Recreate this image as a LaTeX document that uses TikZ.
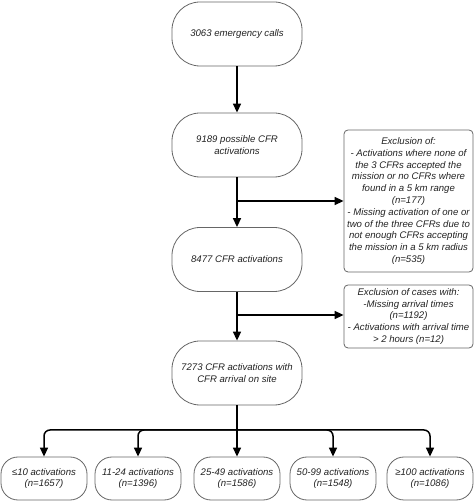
\documentclass[tikz,border=0pt]{standalone}
\usepackage{fontspec}
\setmainfont{Liberation Sans}
\usetikzlibrary{arrows.meta}
\definecolor{boxgray}{HTML}{666666}
\definecolor{txt}{HTML}{222222}
\begin{document}
\begin{tikzpicture}[x=1pt,y=1pt,
  every node/.style={font=\fontsize{9.6}{11.8}\selectfont\itshape, text=txt, align=center, inner sep=0pt},
  stadium/.style={draw=boxgray, line width=0.8pt, rounded corners=28pt, minimum width=130pt, minimum height=64pt},
  small/.style={draw=boxgray, line width=0.8pt, rounded corners=17pt, minimum width=86pt, minimum height=43pt},
  excl/.style={draw=boxgray, line width=0.8pt, rounded corners=4pt, minimum width=129pt},
  arr/.style={draw=black, line width=1.5pt, -{Triangle[length=9pt,width=8pt]}},
  ln/.style={draw=black, line width=1.5pt}]
\useasboundingbox (0,0) rectangle (474,502);
\node[stadium] (b1) at (237,468) {3063 emergency calls};
\node[stadium] (b2) at (237,357) {9189 possible CFR\\activations};
\node[stadium] (b3) at (237,242.5) {8477 CFR activations};
\node[stadium] (b4) at (237,129) {7273 CFR activations with\\CFR arrival on site};
\node[excl, minimum height=142pt] (ex1) at (408.5,301) {Exclusion of:\\- Activations where none of\\the 3 CFRs accepted the\\mission or no CFRs where\\found in a 5 km range\\(n=177)\\- Missing activation of one or\\two of the three CFRs due to\\not enough CFRs accepting\\the mission in a 5 km radius\\(n=535)};
\node[excl, minimum height=63pt] (ex2) at (408.5,185.5) {Exclusion of cases with:\\-Missing arrival times\\(n=1192)\\- Activations with arrival time\\> 2 hours (n=12)};
\node[small] (bA) at (44,23.5) {≤10 activations\\(n=1657)};
\node[small] (bB) at (138,23.5) {11-24 activations\\(n=1396)};
\node[small] (bC) at (237,23.5) {25-49 activations\\(n=1586)};
\node[small] (bD) at (333,23.5) {50-99 activations\\(n=1548)};
\node[small] (bE) at (430,23.5) {≥100 activations\\(n=1086)};
\coordinate (j1) at (237,301);
\coordinate (j2) at (237,187);
\coordinate (bar) at (237,72);
\draw[arr] (b1) -- (b2);
\draw[arr] (b2) -- (b3);
\draw[arr] (j1) -- (ex1.west |- j1);
\draw[arr] (b3) -- (b4);
\draw[arr] (j2) -- (ex2.west |- j2);
\draw[arr] (b4) -- (bC);
\draw[arr, rounded corners=6pt] (bar) -| (bA);
\draw[arr, rounded corners=6pt] (bar) -| (bB);
\draw[arr, rounded corners=6pt] (bar) -| (bD);
\draw[arr, rounded corners=6pt] (bar) -| (bE);
\end{tikzpicture}
\end{document}
